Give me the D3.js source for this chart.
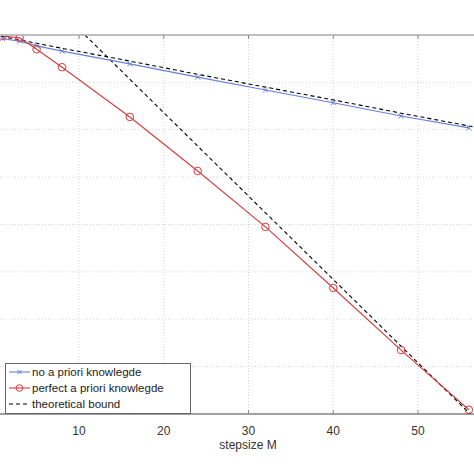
<!DOCTYPE html>
<html><head><meta charset="utf-8">
<script src="https://cdn.jsdelivr.net/npm/d3@7"></script>
<style>body{margin:0;background:#fff}svg{display:block}</style>
</head><body><svg></svg>
<script>
// data
const stepX = [1, 3, 5, 8, 16, 24, 32, 40, 48, 56];
const noPrior = [-0.08, -0.13, -0.23, -0.34, -0.61, -0.89, -1.16, -1.43, -1.71, -1.96];
const perfectPrior = [-0.02, -0.06, -0.30, -0.68, -1.73, -2.87, -4.05, -5.34, -6.65, -7.91];
const boundShallowX = [0, 8, 16, 24, 32, 40, 48, 56, 58];
const boundShallowY = [0.0, -0.28, -0.55, -0.83, -1.1, -1.37, -1.65, -1.92, -1.99];
const boundSteepX = [10.7, 20, 30, 40, 50, 56.5];
const boundSteepY = [0, -1.64, -3.4, -5.16, -6.92, -8.06];
const xTicks = [10, 20, 30, 40, 50];
const yTicks = [0, -1, -2, -3, -4, -5, -6, -7, -8];

const width = 474, height = 474;
const x = d3.scaleLinear().domain([0, 56.7]).range([-5.75, 474.8]);
const y = d3.scaleLinear().domain([0, -8]).range([35, 414]);

const svg = d3.select("svg").attr("width", width).attr("height", height);
svg.append("defs").append("clipPath").attr("id", "plot")
    .append("rect").attr("x", 0).attr("y", 35).attr("width", 474).attr("height", 379);

// grid
const grid = svg.append("g").attr("stroke", "#ccc").attr("stroke-dasharray", "1,2").attr("stroke-width", 0.8);
grid.selectAll("line.v").data(xTicks).join("line")
    .attr("x1", d => x(d)).attr("x2", d => x(d)).attr("y1", 35).attr("y2", 414);
grid.selectAll("line.h").data(yTicks.slice(1, -1)).join("line")
    .attr("x1", 0).attr("x2", 474).attr("y1", d => y(d)).attr("y2", d => y(d));

const plot = svg.append("g").attr("clip-path", "url(#plot)");
const line = d3.line().x(d => x(d[0])).y(d => y(d[1]));

// theoretical bound
[[boundShallowX, boundShallowY], [boundSteepX, boundSteepY]].forEach(([xs, ys]) => {
    plot.append("path").datum(d3.zip(xs, ys)).attr("d", line)
        .attr("fill", "none").attr("stroke", "#000").attr("stroke-width", 1.1).attr("stroke-dasharray", "4,3");
});

// no a priori
plot.append("path").datum(d3.zip(stepX, noPrior)).attr("d", line)
    .attr("fill", "none").attr("stroke", "#6a7fd8").attr("stroke-width", 1.1);
plot.selectAll("path.cross").data(d3.zip(stepX, noPrior)).join("path")
    .attr("transform", d => `translate(${x(d[0])},${y(d[1])})`)
    .attr("d", "M-2.5,-2.5L2.5,2.5M-2.5,2.5L2.5,-2.5")
    .attr("stroke", "#6a7fd8").attr("stroke-width", 1);

// perfect a priori
plot.append("path").datum(d3.zip(stepX, perfectPrior)).attr("d", line)
    .attr("fill", "none").attr("stroke", "#d83a3a").attr("stroke-width", 1.1);
plot.selectAll("circle").data(d3.zip(stepX, perfectPrior)).join("circle")
    .attr("cx", d => x(d[0])).attr("cy", d => y(d[1])).attr("r", 3.8)
    .attr("fill", "none").attr("stroke", "#d83a3a").attr("stroke-width", 1);

// axes
svg.append("line").attr("x1", 0).attr("x2", 474).attr("y1", 35).attr("y2", 35)
    .attr("stroke", "#aaa").attr("stroke-width", 1.5);
svg.append("line").attr("x1", 0).attr("x2", 474).attr("y1", 414).attr("y2", 414)
    .attr("stroke", "#444").attr("stroke-width", 1.2);
const tk = svg.append("g").attr("stroke", "#888");
tk.selectAll("line.t").data(xTicks).join("line")
    .attr("x1", d => x(d)).attr("x2", d => x(d)).attr("y1", 35).attr("y2", 39);
tk.selectAll("line.b").data(xTicks).join("line")
    .attr("x1", d => x(d)).attr("x2", d => x(d)).attr("y1", 414).attr("y2", 410);

svg.append("g").selectAll("text").data(xTicks).join("text")
    .attr("x", d => x(d)).attr("y", 435).attr("text-anchor", "middle")
    .attr("font-family", "Liberation Sans, Arial, sans-serif").attr("font-size", 12).attr("fill", "#333")
    .text(d => d);
svg.append("text").attr("x", 248).attr("y", 449).attr("text-anchor", "middle")
    .attr("font-family", "Liberation Sans, Arial, sans-serif").attr("font-size", 12).attr("fill", "#333")
    .text("stepsize M");

// legend
const lg = svg.append("g").attr("font-family", "Liberation Sans, Arial, sans-serif").attr("font-size", 11.5).attr("fill", "#222");
lg.append("rect").attr("x", 5.5).attr("y", 363.5).attr("width", 185).attr("height", 50)
    .attr("fill", "#fff").attr("stroke", "#666").attr("stroke-width", 1);
const items = [
    { label: "no a priori knowlegde", color: "#6a7fd8", mark: "x" },
    { label: "perfect a priori knowlegde", color: "#d83a3a", mark: "o" },
    { label: "theoretical bound", color: "#000", mark: "-" }
];
items.forEach((it, i) => {
    const cy = 372 + i * 16;
    lg.append("line").attr("x1", 9).attr("x2", 30).attr("y1", cy).attr("y2", cy)
        .attr("stroke", it.color).attr("stroke-width", 1.1)
        .attr("stroke-dasharray", it.mark === "-" ? "4,3" : null);
    if (it.mark === "x") lg.append("path").attr("transform", `translate(19.5,${cy})`)
        .attr("d", "M-2,-2L2,2M-2,2L2,-2").attr("stroke", it.color);
    if (it.mark === "o") lg.append("circle").attr("cx", 19.5).attr("cy", cy).attr("r", 3.3)
        .attr("fill", "none").attr("stroke", it.color);
    lg.append("text").attr("x", 32).attr("y", cy + 4).text(it.label);
});
</script></body></html>
